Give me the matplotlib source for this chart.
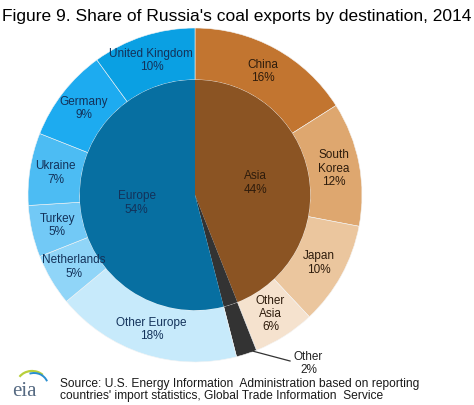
import numpy as np
import matplotlib
matplotlib.use('Agg')
import matplotlib.pyplot as plt
from matplotlib.patches import Arc

plt.rcParams['font.family'] = ['Liberation Sans', 'DejaVu Sans']

# 안쪽 원 (지역)
inner_labels = ['Asia', 'Other', 'Europe']
inner_values = [44, 2, 54]
inner_colors = ['#8B5423', '#333333', '#076FA1']

# 바깥 고리 (국가)
outer_labels = ['China', 'South\nKorea', 'Japan', 'Other\nAsia', 'Other',
                'Other Europe', 'Netherlands', 'Turkey', 'Ukraine', 'Germany',
                'United Kingdom']
outer_values = [16, 12, 10, 6, 2, 18, 5, 5, 7, 9, 10]
outer_colors = ['#C27530', '#DEA76F', '#EBC69E', '#F5E2CE', '#333333',
                '#C7EAFB', '#90D5F8', '#72C9F6', '#4CBCF3', '#1DABF0', '#0AA0E3']

asia_txt = '#2E1C0C'
euro_txt = '#13325A'

fig = plt.figure(figsize=(4.74, 4.05), dpi=100)
ax = fig.add_axes([28 / 474, 43 / 405, 334 / 474, 334 / 405])

w_out = 0.31
ax.pie(outer_values, radius=1, colors=outer_colors, startangle=90, counterclock=False,
       wedgeprops=dict(width=w_out, edgecolor='#f4f4f4', linewidth=0.4))
ax.pie(inner_values, radius=1 - w_out, colors=inner_colors, startangle=90, counterclock=False,
       wedgeprops=dict(edgecolor='none'))
# pie()가 축 범위를 바꾸므로 다시 설정
ax.set_xlim(-1, 1)
ax.set_ylim(-1, 1)
ax.set_aspect('equal')
ax.axis('off')

# 바깥 라벨
total = sum(outer_values)
cum = 0
for lab, v in zip(outer_labels, outer_values):
    mid = (cum + v / 2) / total * 2 * np.pi
    cum += v
    if lab == 'Other':
        continue
    r = 0.845
    col = asia_txt if cum <= 44 else euro_txt
    ax.text(r * np.sin(mid), r * np.cos(mid), f'{lab}\n{v}%', ha='center', va='center',
            fontsize=8.5, color=col, linespacing=1.15)

# 안쪽 라벨
ax.text(0.36, 0.07, 'Asia\n44%', ha='center', va='center', fontsize=8.5, color=asia_txt)
ax.text(-0.35, -0.05, 'Europe\n54%', ha='center', va='center', fontsize=8.5, color=euro_txt)

# Other 2% 지시선
a = 45 / 100 * 2 * np.pi
ax.plot([0.97 * np.sin(a), 0.569], [0.97 * np.cos(a), -0.994], color='#333333', lw=0.9,
        clip_on=False)
ax.text(0.68, -1.01, 'Other\n2%', ha='center', va='center', fontsize=8.5, color='#222222',
        linespacing=1.1)

fig.text(0.5, 1 - 16 / 405, "Figure 9. Share of Russia's coal exports by destination, 2014",
         ha='center', va='center', fontsize=12.5, color='black')

fig.text(60 / 474, 1 - 390 / 405,
         "Source: U.S. Energy Information  Administration based on reporting\n"
         "countries' import statistics, Global Trade Information  Service",
         ha='left', va='center', fontsize=8.65, color='#1a1a1a', linespacing=1.0)

# eia 로고
fig.text(12 / 474, 1 - 391 / 405, 'eia', family='Liberation Serif', fontsize=15,
         color='#566A82', ha='left', va='center')
lax = fig.add_axes([10 / 474, 1 - 384 / 405, 40 / 474, 20 / 405])
lax.set_xlim(0, 40)
lax.set_ylim(0, 20)
lax.axis('off')
lax.add_patch(Arc((22, 0), 30, 26, theta1=40, theta2=150, color='#B8CF3A', lw=1.6))
lax.add_patch(Arc((24, -2), 28, 26, theta1=20, theta2=110, color='#2A8FCF', lw=1.4))

fig.savefig('out.png', dpi=100)
